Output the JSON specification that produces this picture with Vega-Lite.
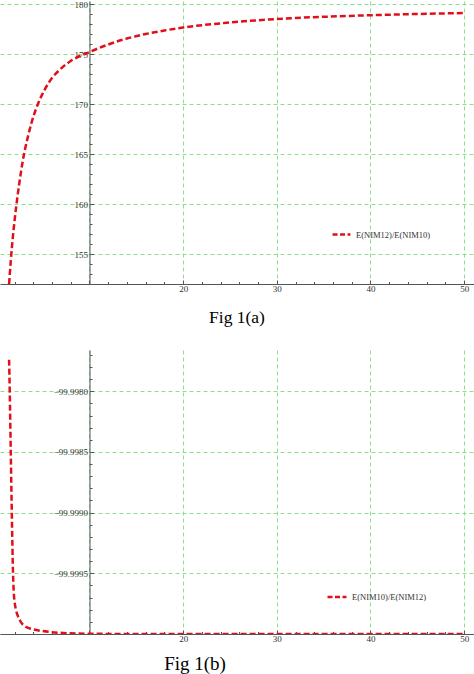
{
  "$schema": "https://vega.github.io/schema/vega-lite/v6.json",
  "padding": 0,
  "background": "white",
  "config": {
    "view": {"stroke": null},
    "font": "Liberation Serif, Times New Roman, serif",
    "axis": {
      "labelFont": "Liberation Serif, Times New Roman, serif",
      "labelFontSize": 9,
      "labelColor": "#333333",
      "domainColor": "#555555",
      "tickColor": "#555555",
      "gridColor": "#8ce08c",
      "gridDash": [4, 3],
      "gridWidth": 1,
      "title": null
    },
    "legend": {"labelFont": "Liberation Serif, Times New Roman, serif"},
    "title": {"font": "Liberation Serif, Times New Roman, serif"}
  },
  "resolve": {"scale": {"color": "independent"}, "legend": {"color": "independent"}},
  "spacing": 23,
  "vconcat": [
    {
      "width": 474,
      "height": 283,
      "title": {"text": "Fig 1(a)", "orient": "bottom", "anchor": "middle", "fontSize": 17.5, "fontWeight": "normal", "color": "black", "offset": 16},
      "data": {"values": [
        {"x": 1.42, "y": 152, "series": "E(NIM12)/E(NIM10)"},
        {"x": 1.6, "y": 154.3, "series": "E(NIM12)/E(NIM10)"},
        {"x": 1.8, "y": 156.5, "series": "E(NIM12)/E(NIM10)"},
        {"x": 2.0, "y": 158.3, "series": "E(NIM12)/E(NIM10)"},
        {"x": 2.2, "y": 159.9, "series": "E(NIM12)/E(NIM10)"},
        {"x": 2.5, "y": 162.0, "series": "E(NIM12)/E(NIM10)"},
        {"x": 2.9, "y": 164.4, "series": "E(NIM12)/E(NIM10)"},
        {"x": 3.5, "y": 167.0, "series": "E(NIM12)/E(NIM10)"},
        {"x": 4.0, "y": 168.7, "series": "E(NIM12)/E(NIM10)"},
        {"x": 4.5, "y": 170.0, "series": "E(NIM12)/E(NIM10)"},
        {"x": 5.2, "y": 171.4, "series": "E(NIM12)/E(NIM10)"},
        {"x": 6.0, "y": 172.6, "series": "E(NIM12)/E(NIM10)"},
        {"x": 6.8, "y": 173.4, "series": "E(NIM12)/E(NIM10)"},
        {"x": 8, "y": 174.3, "series": "E(NIM12)/E(NIM10)"},
        {"x": 10, "y": 175.2, "series": "E(NIM12)/E(NIM10)"},
        {"x": 12, "y": 175.95, "series": "E(NIM12)/E(NIM10)"},
        {"x": 14, "y": 176.55, "series": "E(NIM12)/E(NIM10)"},
        {"x": 16, "y": 177.0, "series": "E(NIM12)/E(NIM10)"},
        {"x": 18, "y": 177.35, "series": "E(NIM12)/E(NIM10)"},
        {"x": 20, "y": 177.65, "series": "E(NIM12)/E(NIM10)"},
        {"x": 25, "y": 178.15, "series": "E(NIM12)/E(NIM10)"},
        {"x": 30, "y": 178.5, "series": "E(NIM12)/E(NIM10)"},
        {"x": 35, "y": 178.72, "series": "E(NIM12)/E(NIM10)"},
        {"x": 40, "y": 178.88, "series": "E(NIM12)/E(NIM10)"},
        {"x": 45, "y": 179.0, "series": "E(NIM12)/E(NIM10)"},
        {"x": 50, "y": 179.1, "series": "E(NIM12)/E(NIM10)"}
      ]},
      "mark": {"type": "line", "strokeWidth": 2.5, "strokeDash": [6, 3], "interpolate": "monotone", "clip": true},
      "encoding": {
        "x": {
          "field": "x", "type": "quantitative",
          "scale": {"domain": [0.45, 51.05], "nice": false, "zero": false},
          "axis": {
            "values": [2, 4, 6, 8, 10, 12, 14, 16, 18, 20, 22, 24, 26, 28, 30, 32, 34, 36, 38, 40, 42, 44, 46, 48, 50],
            "labelExpr": "(datum.value % 10 == 0 && datum.value != 10) ? datum.label : ''",
            "gridOpacity": {"condition": {"test": "datum.value % 10 == 0", "value": 1}, "value": 0},
            "tickSize": {"condition": {"test": "datum.value % 10 == 0", "value": -4}, "value": -2.5},
            "labelPadding": 4
          }
        },
        "y": {
          "field": "y", "type": "quantitative",
          "scale": {"domain": [152, 180.3], "nice": false, "zero": false},
          "axis": {
            "offset": -89.5,
            "values": [152, 153, 154, 155, 156, 157, 158, 159, 160, 161, 162, 163, 164, 165, 166, 167, 168, 169, 170, 171, 172, 173, 174, 175, 176, 177, 178, 179, 180],
            "labelExpr": "(datum.value % 5 == 0) ? datum.label : ''",
            "gridOpacity": {"condition": {"test": "datum.value % 5 == 0", "value": 1}, "value": 0},
            "tickSize": {"condition": {"test": "datum.value % 5 == 0", "value": -4}, "value": -2.5},
            "labelPadding": 6
          }
        },
        "color": {
          "field": "series", "type": "nominal",
          "scale": {"range": ["#e0101a"]},
          "legend": {"orient": "none", "legendX": 331, "legendY": 223, "title": null, "symbolType": "stroke", "symbolStrokeWidth": 2.5, "symbolDash": [5, 2.5], "symbolSize": 320, "labelFontSize": 8.5, "labelColor": "#333333", "labelOffset": 4}
        }
      }
    },
    {
      "width": 474,
      "height": 284,
      "title": {"text": "Fig 1(b)", "orient": "bottom", "anchor": "middle", "dx": -42, "fontSize": 19, "fontWeight": "normal", "color": "black", "offset": 12},
      "data": {"values": [
        {"x": 1.42, "y": -99.99774, "series": "E(NIM10)/E(NIM12)"},
        {"x": 1.49, "y": -99.998, "series": "E(NIM10)/E(NIM12)"},
        {"x": 1.6, "y": -99.9985, "series": "E(NIM10)/E(NIM12)"},
        {"x": 1.71, "y": -99.999, "series": "E(NIM10)/E(NIM12)"},
        {"x": 1.84, "y": -99.9995, "series": "E(NIM10)/E(NIM12)"},
        {"x": 2.03, "y": -99.99975, "series": "E(NIM10)/E(NIM12)"},
        {"x": 2.56, "y": -99.999885, "series": "E(NIM10)/E(NIM12)"},
        {"x": 3.2, "y": -99.99994, "series": "E(NIM10)/E(NIM12)"},
        {"x": 4.0, "y": -99.999962, "series": "E(NIM10)/E(NIM12)"},
        {"x": 5.0, "y": -99.999976, "series": "E(NIM10)/E(NIM12)"},
        {"x": 6.0, "y": -99.999985, "series": "E(NIM10)/E(NIM12)"},
        {"x": 7.5, "y": -99.999993, "series": "E(NIM10)/E(NIM12)"},
        {"x": 10, "y": -99.999998, "series": "E(NIM10)/E(NIM12)"},
        {"x": 15, "y": -100, "series": "E(NIM10)/E(NIM12)"},
        {"x": 20, "y": -100, "series": "E(NIM10)/E(NIM12)"},
        {"x": 30, "y": -100, "series": "E(NIM10)/E(NIM12)"},
        {"x": 40, "y": -100, "series": "E(NIM10)/E(NIM12)"},
        {"x": 50, "y": -100, "series": "E(NIM10)/E(NIM12)"}
      ]},
      "mark": {"type": "line", "strokeWidth": 2.5, "strokeDash": [6, 3], "interpolate": "monotone", "clip": true},
      "encoding": {
        "x": {
          "field": "x", "type": "quantitative",
          "scale": {"domain": [0.45, 51.05], "nice": false, "zero": false},
          "axis": {
            "values": [2, 4, 6, 8, 10, 12, 14, 16, 18, 20, 22, 24, 26, 28, 30, 32, 34, 36, 38, 40, 42, 44, 46, 48, 50],
            "labelExpr": "(datum.value % 10 == 0 && datum.value != 10) ? datum.label : ''",
            "gridOpacity": {"condition": {"test": "datum.value % 10 == 0", "value": 1}, "value": 0},
            "tickSize": {"condition": {"test": "datum.value % 10 == 0", "value": -4}, "value": -2.5},
            "labelPadding": 4
          }
        },
        "y": {
          "field": "y", "type": "quantitative",
          "scale": {"domain": [-100, -99.99766], "nice": false, "zero": false},
          "axis": {
            "offset": -89.5,
            "format": ".4f",
            "values": [-100, -99.9999, -99.9998, -99.9997, -99.9996, -99.9995, -99.9994, -99.9993, -99.9992, -99.9991, -99.999, -99.9989, -99.9988, -99.9987, -99.9986, -99.9985, -99.9984, -99.9983, -99.9982, -99.9981, -99.998, -99.9979, -99.9978, -99.9977],
            "labelExpr": "(abs(round(datum.value * 10000)) % 5 == 0 && round(datum.value * 10000) != -1000000) ? datum.label : ''",
            "gridOpacity": {"condition": {"test": "abs(round(datum.value * 10000)) % 5 == 0", "value": 1}, "value": 0},
            "tickSize": {"condition": {"test": "abs(round(datum.value * 10000)) % 5 == 0", "value": -4}, "value": -2.5},
            "labelPadding": 6
          }
        },
        "color": {
          "field": "series", "type": "nominal",
          "scale": {"range": ["#e0101a"]},
          "legend": {"orient": "none", "legendX": 326, "legendY": 236, "title": null, "symbolType": "stroke", "symbolStrokeWidth": 2.5, "symbolDash": [5, 2.5], "symbolSize": 360, "labelFontSize": 8.5, "labelColor": "#333333", "labelOffset": 4}
        }
      }
    }
  ]
}
